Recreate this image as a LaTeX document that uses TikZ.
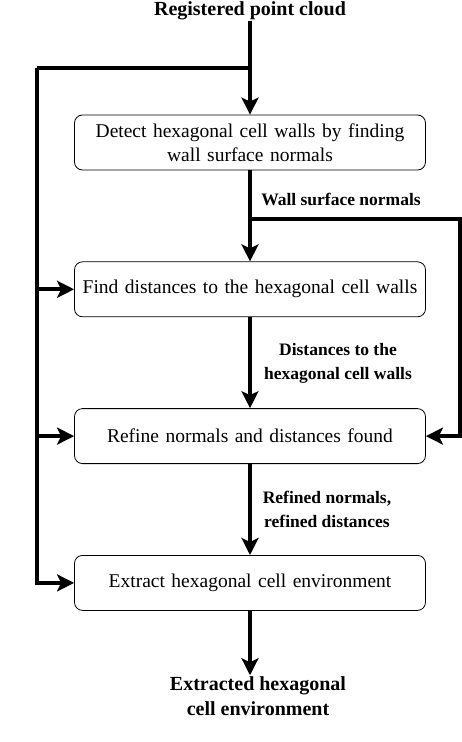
\documentclass[tikz,border=0pt]{standalone}
\usepackage{fontspec}
\setmainfont{Liberation Serif}
\usetikzlibrary{arrows.meta,positioning}

\begin{document}
\begin{tikzpicture}[
  x=1pt, y=1pt,
  node distance=91pt,
  block/.style={rectangle, draw, line width=0.8pt, rounded corners=8pt, text width=345pt, align=center, inner sep=3pt, minimum height=55pt, font=\fontsize{19.5}{24}\selectfont},
  io/.style={align=center, inner sep=1pt, font=\fontsize{20}{25}\selectfont\bfseries},
  tag/.style={align=center, inner sep=0pt, font=\fontsize{17.5}{24}\selectfont\bfseries},
  flow/.style={-{Stealth[length=17pt, width=17pt, inset=4pt]}, line width=4pt},
  wire/.style={line width=4pt},
]
  \useasboundingbox (0,0) rectangle (462,-742);

  \node[io, anchor=base] (cloud) at (250,-15) {Registered point cloud};
  \node[block] (detect) at (250,-142.5) {Detect hexagonal cell walls by finding\\wall surface normals};
  \node[block, below=of detect] (find) {Find distances to the hexagonal cell walls};
  \node[block, below=of find] (refine) {Refine normals and distances found};
  \node[block, below=of refine] (extract) {Extract hexagonal cell environment};
  \node[io] (result) at (258,-696) {Extracted hexagonal\\cell environment};

  % edge labels
  \node[tag] (normals) at (341,-199) {Wall surface normals};
  \node[tag] (dists) at (338,-363) {Distances to the\\hexagonal cell walls};
  \node[tag] (refined) at (327,-509) {Refined normals,\\refined distances};

  % branch points
  \coordinate (topsplit) at (250,-68);
  \coordinate (leftbus) at (37,-68);
  \coordinate (midsplit) at (250,-219);
  \coordinate (rightbus) at (460,-219);

  % main chain
  \draw[flow] (cloud) -- (detect);
  \draw[flow] (detect) -- (find);
  \draw[flow] (find) -- (refine);
  \draw[flow] (refine) -- (extract);
  \draw[flow] (extract) -- (extract.south |- result.north);

  % point cloud fed to every later step
  \draw[wire] (topsplit) -- (leftbus);
  \draw[flow] (leftbus) |- (find);
  \draw[flow] (leftbus) |- (refine);
  \draw[flow] (leftbus) |- (extract);

  % normals fed to refinement
  \draw[flow] (midsplit) -- (rightbus) |- (refine);
\end{tikzpicture}
\end{document}
